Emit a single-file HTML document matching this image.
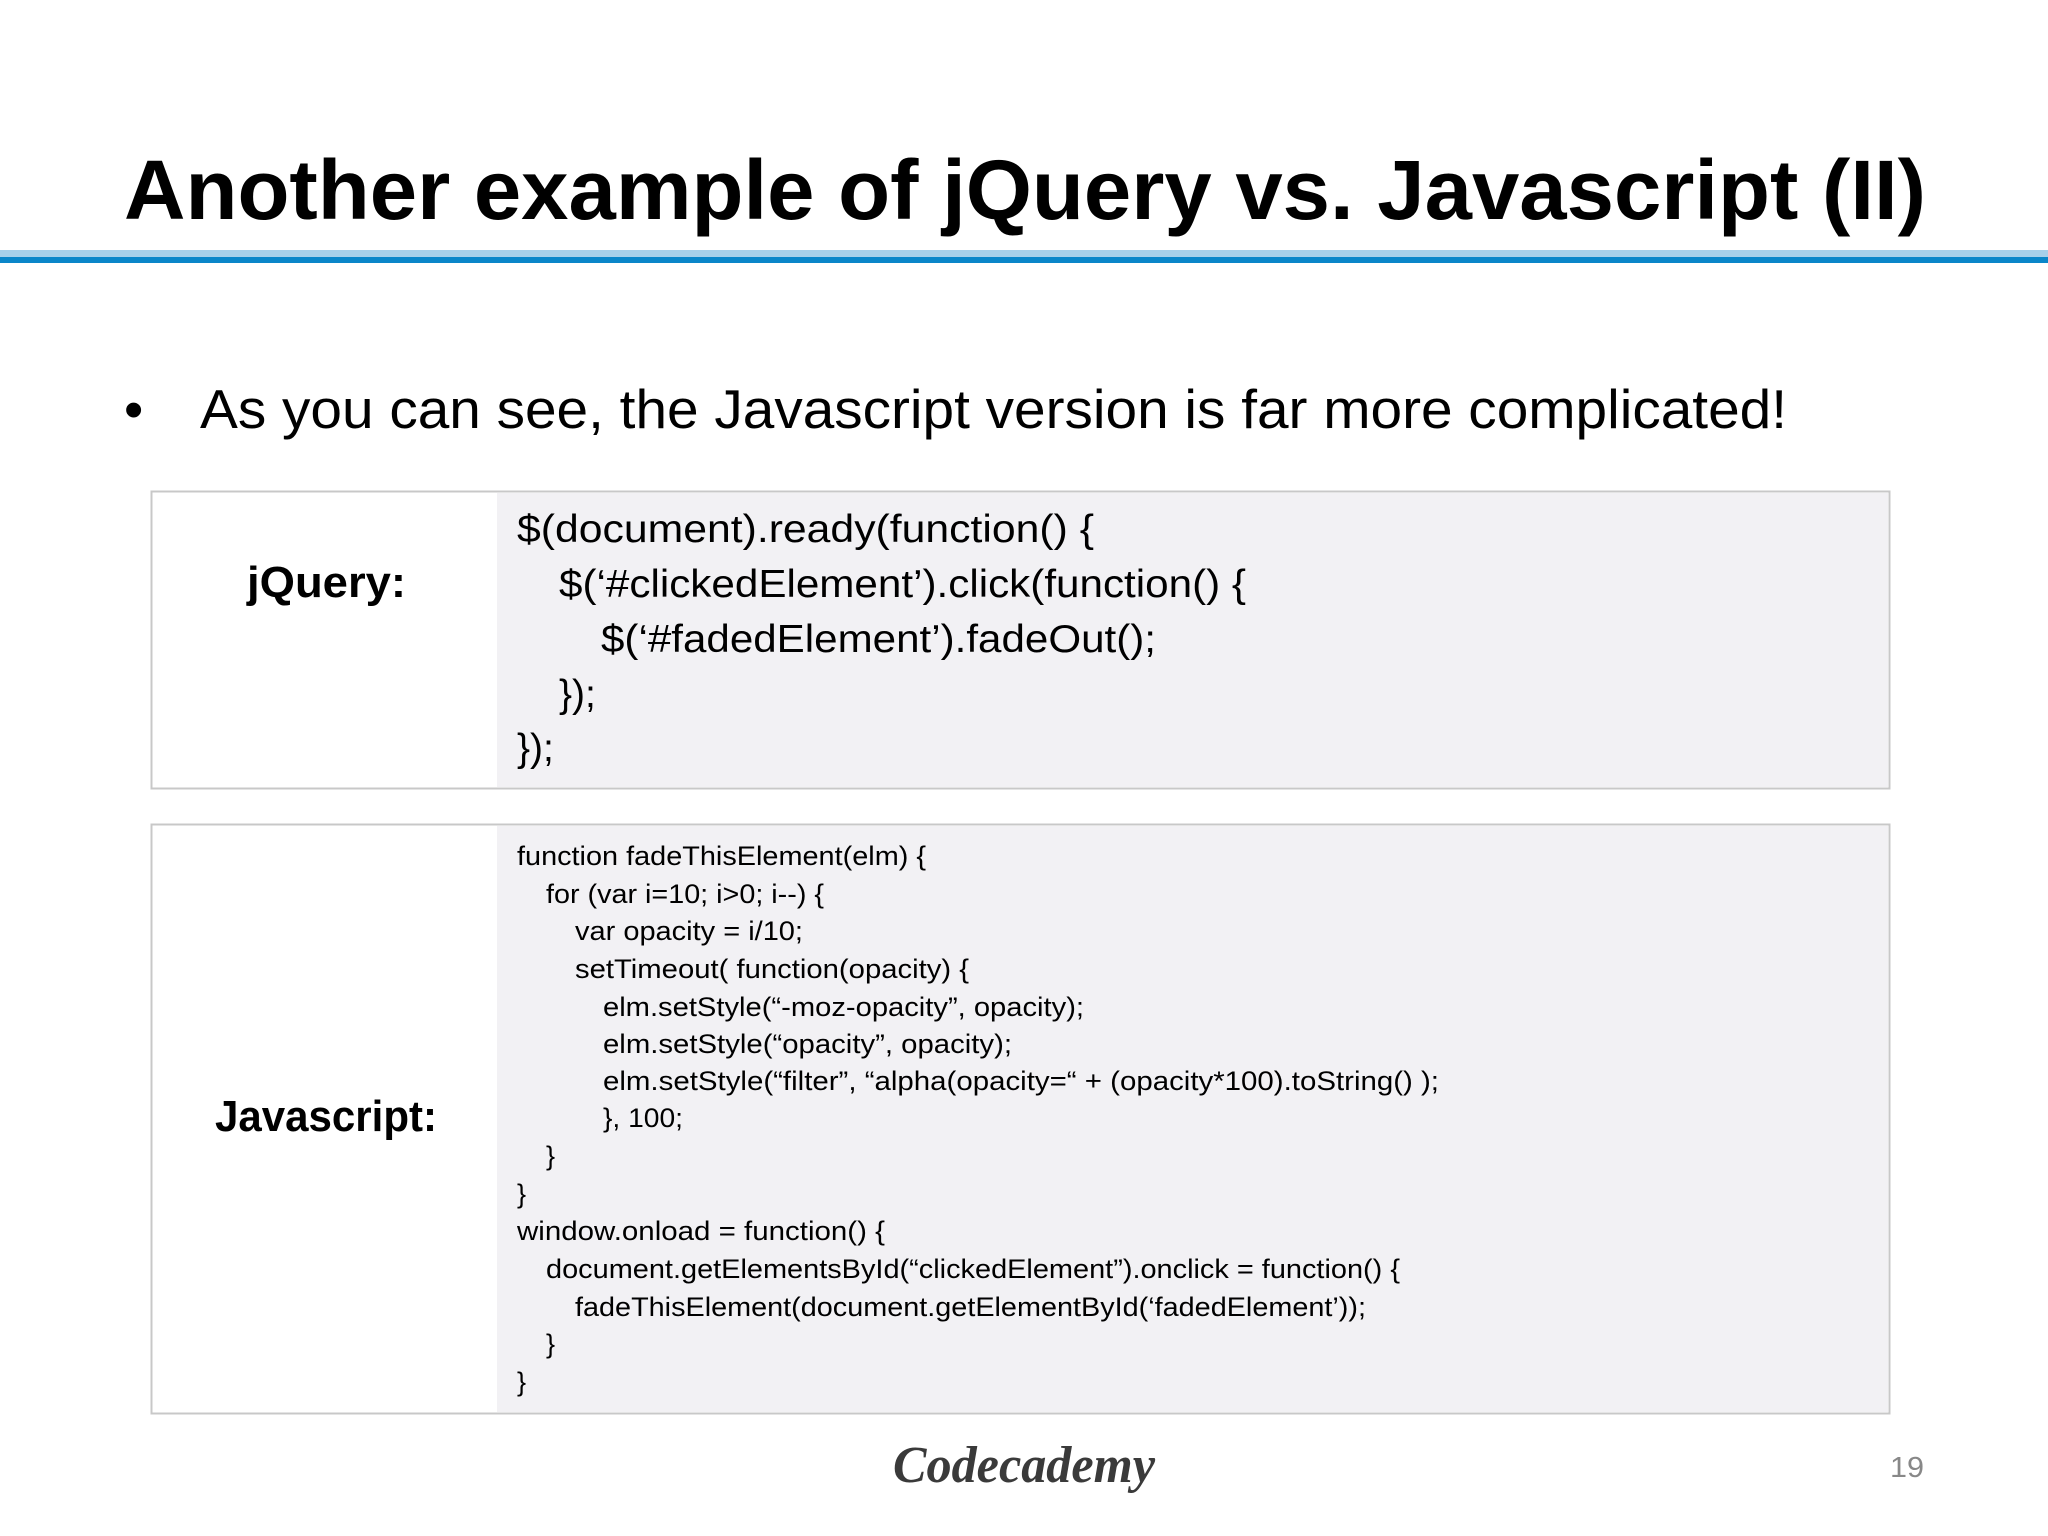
<!DOCTYPE html>
<html><head><meta charset="utf-8"><style>html,body{margin:0;padding:0;background:#fff}svg{display:block}</style></head>
<body>
<svg width="2048" height="1536" viewBox="0 0 2048 1536" xmlns="http://www.w3.org/2000/svg" font-family="Liberation Sans, sans-serif">
<rect width="2048" height="1536" fill="#fff"/>
<text x="124" y="219" font-size="84" font-weight="bold" fill="#000" textLength="1802" lengthAdjust="spacingAndGlyphs">Another example of jQuery vs. Javascript (II)</text>
<rect x="0" y="250" width="2048" height="7" fill="#a7d0ea"/>
<rect x="0" y="257" width="2048" height="6" fill="#0a86c9"/>
<text x="124" y="428" font-size="55" fill="#000">•</text>
<text x="200" y="428" font-size="55" fill="#000" textLength="1587" lengthAdjust="spacingAndGlyphs">As you can see, the Javascript version is far more complicated!</text>

<rect x="151.5" y="491.5" width="1738" height="297" fill="#fff" stroke="#c8c8c8" stroke-width="2"/>
<rect x="497" y="493" width="1391" height="294" fill="#f2f1f4"/>
<text x="247" y="597" font-size="44" font-weight="bold" fill="#000" textLength="159" lengthAdjust="spacingAndGlyphs">jQuery:</text>
<g font-size="39" fill="#000">
<text x="517" y="542" textLength="577" lengthAdjust="spacingAndGlyphs">$(document).ready(function() {</text>
<text x="559" y="597" textLength="687" lengthAdjust="spacingAndGlyphs">$(‘#clickedElement’).click(function() {</text>
<text x="601" y="652" textLength="555" lengthAdjust="spacingAndGlyphs">$(‘#fadedElement’).fadeOut();</text>
<text x="559" y="707">});</text>
<text x="517" y="761">});</text>
</g>

<rect x="151.5" y="824.5" width="1738" height="589" fill="#fff" stroke="#c8c8c8" stroke-width="2"/>
<rect x="497" y="826" width="1391" height="586" fill="#f2f1f4"/>
<text x="215" y="1131" font-size="44" font-weight="bold" fill="#000" textLength="222" lengthAdjust="spacingAndGlyphs">Javascript:</text>
<g font-size="27" fill="#000" lengthAdjust="spacingAndGlyphs">
<text x="517" y="865" textLength="409" lengthAdjust="spacingAndGlyphs">function fadeThisElement(elm) {</text>
<text x="546" y="903" textLength="278" lengthAdjust="spacingAndGlyphs">for (var i=10; i&gt;0; i--) {</text>
<text x="575" y="940" textLength="228" lengthAdjust="spacingAndGlyphs">var opacity = i/10;</text>
<text x="575" y="978" textLength="394" lengthAdjust="spacingAndGlyphs">setTimeout( function(opacity) {</text>
<text x="603" y="1016" textLength="481" lengthAdjust="spacingAndGlyphs">elm.setStyle(“-moz-opacity”, opacity);</text>
<text x="603" y="1053" textLength="409" lengthAdjust="spacingAndGlyphs">elm.setStyle(“opacity”, opacity);</text>
<text x="603" y="1090" textLength="836" lengthAdjust="spacingAndGlyphs">elm.setStyle(“filter”, “alpha(opacity=“ + (opacity*100).toString() );</text>
<text x="603" y="1127" textLength="80" lengthAdjust="spacingAndGlyphs">}, 100;</text>
<text x="546" y="1165">}</text>
<text x="517" y="1203">}</text>
<text x="517" y="1240" textLength="368" lengthAdjust="spacingAndGlyphs">window.onload = function() {</text>
<text x="546" y="1278" textLength="854" lengthAdjust="spacingAndGlyphs">document.getElementsById(“clickedElement”).onclick = function() {</text>
<text x="575" y="1316" textLength="791" lengthAdjust="spacingAndGlyphs">fadeThisElement(document.getElementById(‘fadedElement’));</text>
<text x="546" y="1353">}</text>
<text x="517" y="1391">}</text>
</g>

<text x="893" y="1482" font-family="Liberation Serif, serif" font-size="52" font-weight="bold" font-style="italic" fill="#3a3a3a" textLength="262" lengthAdjust="spacingAndGlyphs">Codecademy</text>
<text x="1890" y="1477" font-size="29" fill="#888" textLength="34" lengthAdjust="spacingAndGlyphs">19</text>
</svg>
</body></html>
